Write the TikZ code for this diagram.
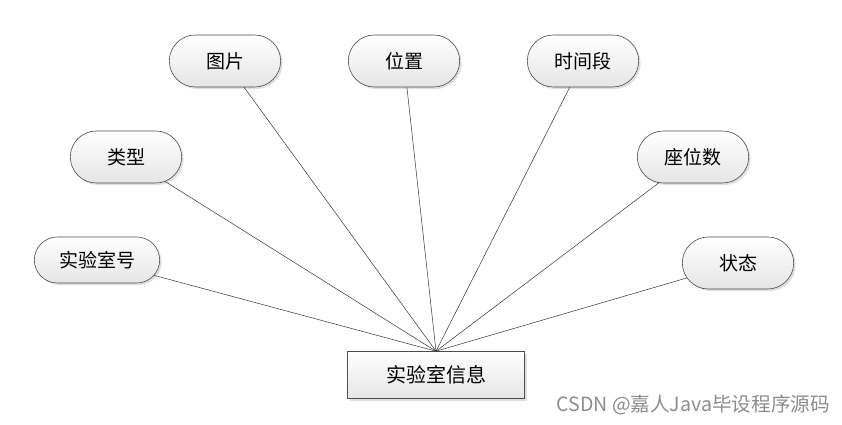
\documentclass[tikz,border=0pt]{standalone}
\usepackage{fontspec}
\setmainfont{Noto Sans CJK SC}
\usetikzlibrary{shapes.misc,shadows}

\begin{document}
\begin{tikzpicture}[x=1pt,y=-1pt,
  attr/.style={rounded rectangle, draw=black!70, line width=0.6pt,
    minimum width=118pt, minimum height=52pt,
    top color=white, bottom color=black!10,
    drop shadow={shadow xshift=2pt, shadow yshift=-2pt, opacity=0.25},
    font=\fontsize{19}{22}\selectfont},
  ent/.style={rectangle, draw=black!70, line width=0.6pt,
    minimum width=177pt, minimum height=47pt,
    top color=white, bottom color=black!10,
    drop shadow={shadow xshift=2pt, shadow yshift=-2pt, opacity=0.25},
    font=\fontsize{20}{23}\selectfont},
  link/.style={draw=black!80, line width=0.5pt}]
\useasboundingbox (0,0) rectangle (842,425);
\node[attr] (tupian) at (225,61) {图片};
\node[attr] (weizhi) at (404,61) {位置};
\node[attr] (shijianduan) at (583,61) {时间段};
\node[attr] (leixing) at (126,157) {类型};
\node[attr] (zuoweishu) at (693,157) {座位数};
\node[attr, minimum width=132pt, minimum height=46pt] (shiyanshihao) at (97,260) {实验室号};
\node[attr] (zhuangtai) at (738,263) {状态};
\node[ent] (xinxi) at (436,375) {实验室信息};
\draw[link] (tupian) -- (xinxi.north);
\draw[link] (weizhi) -- (xinxi.north);
\draw[link] (shijianduan) -- (xinxi.north);
\draw[link] (leixing) -- (xinxi.north);
\draw[link] (zuoweishu) -- (xinxi.north);
\draw[link] (shiyanshihao) -- (xinxi.north);
\draw[link] (zhuangtai) -- (xinxi.north);
\node[anchor=west, text=black!45, font=\fontsize{19.6}{22}\selectfont] (mark) at (553,405) {CSDN @嘉人Java毕设程序源码};
\end{tikzpicture}
\end{document}
